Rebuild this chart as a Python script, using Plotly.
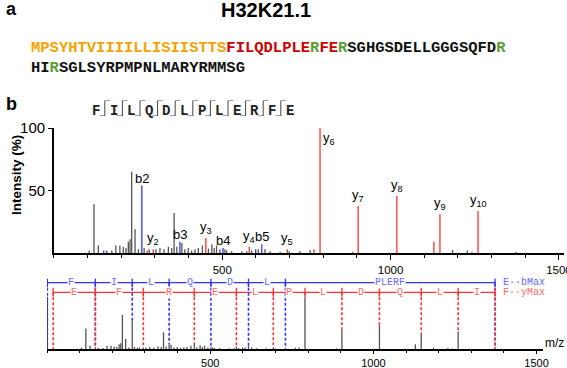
import plotly.graph_objects as go

W, H = 567, 368

# ---------------- data ----------------
title_text = "H32K21.1"
peptide = "FILQDLPLERFE"

# protein sequence segments (text, role)
seq_line1 = [("MPSYHTVIIIILLISIISTTS", "signal"), ("FILQDLPLE", "peptide"), ("R", "site"),
             ("FE", "peptide"), ("R", "site"), ("SGHGSDELLGGGSQFD", "other"), ("R", "site")]
seq_line2 = [("HI", "other"), ("R", "site"), ("SGLSYRPMPNLMARYRMMSG", "other")]

# unassigned peaks (m/z, relative intensity %)
other_mz = [105, 119, 132, 157, 172, 184, 196, 206, 214, 221, 226, 231, 241, 251, 268, 283, 303, 315,
            327, 340, 350, 357, 365, 380, 389, 399, 409, 419, 429, 441, 459, 469, 476, 483, 493, 508,
            513, 528, 558, 573, 587, 607, 627, 642, 672, 699, 761, 1184, 1228]
other_int = [2, 39, 6, 2, 2, 6, 6, 5, 4, 9, 11, 65, 19, 3, 4, 3, 3, 4,
             3, 5, 4, 32, 5, 8, 3, 4, 2, 3, 4, 6, 3.5, 7, 4, 6, 3, 3,
             2, 1.5, 1.5, 1.5, 2, 3, 3, 1.5, 1, 1.5, 2.5, 2.5, 2]

# b-ion peaks
b_mz = [148.08, 261.16, 374.24, 502.30, 599.3, 617.33, 730.41, 1372.77]
b_int = [2, 54, 9, 4, 3, 7, 1.5, 0.8]
b_lab = ["", "b2", "b3", "b4", "", "b5", "", ""]

# y-ion peaks
y_mz = [277.1, 295.13, 451.23, 580.27, 693.36, 772.4, 790.41, 887.5, 903.50, 1018.52, 1128.6,
        1146.58, 1241.7, 1259.67]
y_int = [2, 3, 12, 5, 3, 3, 100, 1, 37.6, 45.6, 9, 31, 1, 33.6]
y_lab = ["", "y2", "y3", "y4", "y5", "", "y6", "", "y7", "y8", "", "y9", "", "y10"]

# fragment ladders (lower panel)
b_ladder_mz = [1.01, 148.08, 261.16, 374.24, 502.30, 617.33, 730.41, 1372.77]
b_ladder_res = ["F", "I", "L", "Q", "D", "L", "PLERF"]
b_ladder_end = "E··bMax"
y_ladder_mz = [19.02, 148.06, 295.13, 451.23, 580.27, 693.36, 790.41, 903.50, 1018.52,
               1146.58, 1259.67, 1372.75]
y_ladder_res = ["E", "F", "R", "E", "L", "P", "L", "D", "Q", "L", "I"]
y_ladder_end = "F··yMax"

x_ticks = [500, 1000, 1500]
y_ticks = [50, 100]

# ---------------- style ----------------
SANS = "Arial, Liberation Sans, sans-serif"
MONO = "Courier New, Liberation Mono, monospace"
SEQ_COL = {"signal": "#f5a300", "peptide": "#cc0000", "site": "#5b9e32", "other": "#111111"}
GRAY = "#555555"
BLUE = "#3434ff"
RED = "#ff3434"
BLUE_T = "#6a6aff"
RED_T = "#ff6a6a"


def px_x(p):
    return p / W


def px_y(p):
    return 1 - p / H


def sticks(mz, inten):
    xs, ys = [], []
    for m, i in zip(mz, inten):
        xs += [m, m, None]
        ys += [0, i, None]
    return xs, ys


fig = go.Figure()

# ---------- top spectrum ----------
for mz, it, col in [(other_mz, other_int, GRAY), (b_mz, b_int, BLUE), (y_mz, y_int, RED)]:
    xs, ys = sticks(mz, it)
    fig.add_trace(go.Scatter(x=xs, y=ys, mode="lines", line=dict(color=col, width=1.3),
                             xaxis="x", yaxis="y", hoverinfo="skip", showlegend=False))

annotations = []
for mz, it, lab in list(zip(b_mz, b_int, b_lab)) + list(zip(y_mz, y_int, y_lab)):
    if not lab:
        continue
    txt = lab[0] + ("<sub>" + lab[1:] + "</sub>" if lab[0] == "y" else lab[1:])
    if it >= 90:
        annotations.append(dict(x=mz, y=it, xref="x", yref="y", text=txt, showarrow=False,
                                xanchor="left", yanchor="top", xshift=1,
                                font=dict(family=SANS, size=13, color="#000")))
    else:
        annotations.append(dict(x=mz, y=it, xref="x", yref="y", text=txt, showarrow=False,
                                xanchor="center", yanchor="bottom",
                                yshift=(-2 if lab[0] == "b" else 0),
                                font=dict(family=SANS, size=13, color="#000")))

# ---------- bottom spectrum ----------
all_mz = other_mz + b_mz + y_mz
all_int = other_int + b_int + y_int
xs, ys = sticks(all_mz, all_int)
fig.add_trace(go.Scatter(x=xs, y=ys, mode="lines", line=dict(color=GRAY, width=1.3),
                         xaxis="x2", yaxis="y2", hoverinfo="skip", showlegend=False))
# left spine up to 100 %
fig.add_trace(go.Scatter(x=[0, 0], y=[0, max(all_int)], mode="lines",
                         line=dict(color="#000", width=1.5), xaxis="x2", yaxis="y2",
                         hoverinfo="skip", showlegend=False))


def intensity_at(m):
    best = 0
    for mm, ii in zip(all_mz, all_int):
        if abs(mm - m) < 1.0:
            best = max(best, ii)
    return best


B_LEVEL, Y_LEVEL, HALF = 126.8, 108.4, 8.6

for ladder, level, col, tcol, res, end in [
        (b_ladder_mz, B_LEVEL, BLUE, BLUE_T, b_ladder_res, b_ladder_end),
        (y_ladder_mz, Y_LEVEL, RED, RED_T, y_ladder_res, y_ladder_end)]:
    # dashed drop lines
    dx, dy = [], []
    for m in ladder:
        dx += [m, m, None]
        dy += [level, intensity_at(m), None]
    fig.add_trace(go.Scatter(x=dx, y=dy, mode="lines", line=dict(color=col, width=1.6, dash="3px,2px"),
                             xaxis="x2", yaxis="y2", hoverinfo="skip", showlegend=False))
    # horizontal ladder + ticks
    lx = [ladder[0], ladder[-1], None]
    ly = [level, level, None]
    for m in ladder:
        lx += [m, m, None]
        ly += [level - HALF, level + HALF, None]
    fig.add_trace(go.Scatter(x=lx, y=ly, mode="lines", line=dict(color=col, width=1.3),
                             xaxis="x2", yaxis="y2", hoverinfo="skip", showlegend=False))
    for a, b, r in zip(ladder[:-1], ladder[1:], res):
        annotations.append(dict(x=(a + b) / 2, y=level, xref="x2", yref="y2", text=r, showarrow=False,
                                bgcolor="white", borderpad=0,
                                font=dict(family=MONO, size=10, color=tcol)))
    annotations.append(dict(x=ladder[-1], y=level, xref="x2", yref="y2", text=end, showarrow=False,
                            xanchor="left", xshift=6, font=dict(family=MONO, size=10, color=tcol)))

# ---------- fragment map ----------
n = len(peptide)
for i, ch in enumerate(peptide):
    annotations.append(dict(x=i, y=0.3, xref="x3", yref="y3", text=ch, showarrow=False,
                            font=dict(family=MONO, size=14, color="#222", weight="bold")))
bx, by = [], []
for i in range(n - 1):
    c = i + 0.5
    bx += [c - 0.3, c, c, c + 0.3, None]
    by += [0, 0, 1, 1, None]
fig.add_trace(go.Scatter(x=bx, y=by, mode="lines", line=dict(color="#444", width=1),
                         xaxis="x3", yaxis="y3", hoverinfo="skip", showlegend=False))

# ---------- texts ----------
def seq_html(segs):
    return "".join('<span style="color:%s">%s</span>' % (SEQ_COL[r], t) for t, r in segs)


annotations += [
    dict(x=px_x(4), y=px_y(9), xref="paper", yref="paper", text="a", showarrow=False,
         xanchor="left", yanchor="middle", font=dict(family=SANS, size=18, color="#000", weight="bold")),
    dict(x=px_x(4), y=px_y(104), xref="paper", yref="paper", text="b", showarrow=False,
         xanchor="left", yanchor="middle", font=dict(family=SANS, size=18, color="#000", weight="bold")),
    dict(x=px_x(266), y=px_y(10), xref="paper", yref="paper", text=title_text, showarrow=False,
         xanchor="center", yanchor="middle", font=dict(family=SANS, size=20, color="#000", weight="bold")),
    dict(x=px_x(29), y=px_y(48), xref="paper", yref="paper", text=seq_html(seq_line1), showarrow=False,
         xanchor="left", yanchor="middle", font=dict(family=MONO, size=15.5, weight="bold")),
    dict(x=px_x(29), y=px_y(68), xref="paper", yref="paper", text=seq_html(seq_line2), showarrow=False,
         xanchor="left", yanchor="middle", font=dict(family=MONO, size=15.5, weight="bold")),
    dict(x=px_x(16), y=px_y(175), xref="paper", yref="paper", text="Intensity (%)", showarrow=False,
         textangle=-90, xanchor="center", yanchor="middle",
         font=dict(family=SANS, size=13.5, color="#000", weight="bold")),
    dict(x=px_x(566), y=px_y(343), xref="paper", yref="paper", text="m/z", showarrow=False,
         xanchor="right", yanchor="middle", font=dict(family=SANS, size=12, color="#000")),
]

top_x0, top_slope = 53.9, 0.3367
bot_x0, bot_slope = 47.0, 0.3264
top_range = [0, 1515]
bot_range = [0, 1520]

fig.update_layout(
    width=W, height=H, margin=dict(l=0, r=0, t=0, b=0, autoexpand=False),
    paper_bgcolor="white", plot_bgcolor="white", showlegend=False,
    annotations=annotations,
    xaxis=dict(domain=[px_x(top_x0), px_x(top_x0 + top_slope * top_range[1])], range=top_range,
               anchor="y", showline=True, linecolor="#000", linewidth=1.5, showgrid=False, zeroline=False,
               tickvals=x_ticks, ticks="outside", ticklen=5, tickwidth=1, tickcolor="#000",
               minor=dict(dtick=100, ticks="outside", ticklen=3, tickcolor="#000", showgrid=False),
               tickfont=dict(family=SANS, size=11.5, color="#000"), ticklabeloverflow="allow",
               automargin=False),
    yaxis=dict(domain=[px_y(253), px_y(128)], range=[0, 100], anchor="x",
               showline=True, linecolor="#000", linewidth=1.5, showgrid=False, zeroline=False,
               tickvals=y_ticks, ticks="outside", ticklen=4, tickcolor="#000",
               tickfont=dict(family=SANS, size=15, color="#000"), automargin=False),
    xaxis2=dict(domain=[px_x(bot_x0), px_x(bot_x0 + bot_slope * bot_range[1])], range=bot_range,
                anchor="y2", showline=True, linecolor="#000", linewidth=1.5, showgrid=False, zeroline=False,
                tickvals=x_ticks, ticks="outside", ticklen=3, tickcolor="#000",
                minor=dict(dtick=100, ticks="outside", ticklen=2, tickcolor="#000", showgrid=False),
                tickfont=dict(family=SANS, size=11, color="#000"), ticklabeloverflow="allow",
                automargin=False),
    yaxis2=dict(domain=[px_y(349), px_y(349 - 135 * 0.523)], range=[0, 135], anchor="x2",
                visible=False, automargin=False),
    xaxis3=dict(domain=[px_x(87.2), px_x(298.4)], range=[-0.5, n - 0.5], anchor="y3", visible=False,
                automargin=False),
    yaxis3=dict(domain=[px_y(116), px_y(100.5)], range=[0, 1], anchor="x3", visible=False,
                automargin=False),
)

fig.write_html("out.html", config={"displayModeBar": False},
               post_script="document.body.style.margin='0';document.body.style.overflow='hidden';")
